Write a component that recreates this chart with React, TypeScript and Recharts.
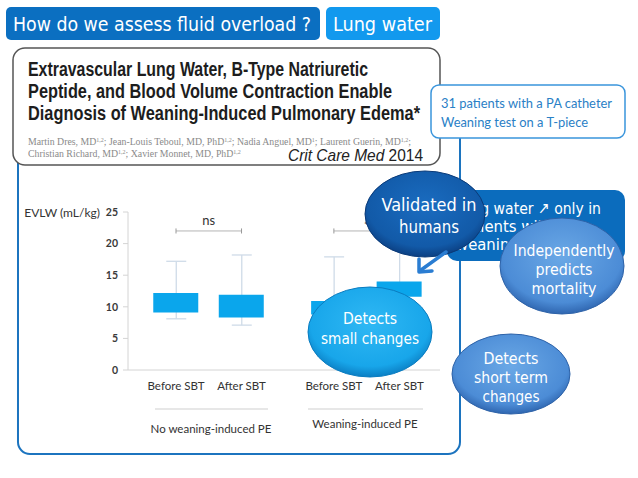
import { ComposedChart, Bar, XAxis, YAxis, ReferenceLine } from "recharts"

const conditions = ["Before SBT", "After SBT"]
const groups = ["No weaning-induced PE", "Weaning-induced PE"]
const whiskerMin = [8.1, 7.1, 7.0, 10.6]
const boxQ1 = [9.1, 8.3, 8.8, 11.6]
const boxQ3 = [12.2, 11.9, 10.9, 14.0]
const whiskerMax = [17.2, 18.2, 17.9, 22.0]
const yTicks = [0, 5, 10, 15, 20, 25]
const significance = ["ns", "*"]
const bracketLevel = 22

// layout of the x positions: two boxes per group, a wider gap between groups
const GROUP_STEP = 2.41
const X_DOMAIN: [number, number] = [-0.733, 4.03]

const data = groups.flatMap((g, gi) =>
  conditions.map((c, ci) => {
    const i = gi * conditions.length + ci
    return {
      pos: gi * GROUP_STEP + ci,
      label: c,
      group: g,
      box: [boxQ1[i], boxQ3[i]],
      whisker: [whiskerMin[i], whiskerMax[i]],
    }
  })
)

const CHART_FONT = "Lato, 'Open Sans', sans-serif"
const SLIDE_FONT = "'DejaVu Sans Condensed', 'DejaVu Sans', sans-serif"

// eslint-disable-next-line @typescript-eslint/no-explicit-any
function Whisker(props: any) {
  const { x, y, width, height } = props
  const top = Math.min(y, y + height)
  const bottom = Math.max(y, y + height)
  const cx = x + width / 2
  return (
    <g stroke="#cfdbe8" strokeWidth={1.3}>
      <line x1={cx} x2={cx} y1={top} y2={bottom} />
      <line x1={x} x2={x + width} y1={top} y2={top} />
      <line x1={x} x2={x + width} y1={bottom} y2={bottom} />
    </g>
  )
}

function BoxChart() {
  return (
    <ComposedChart
      width={638}
      height={478}
      data={data}
      margin={{ top: 212, right: 198, bottom: 78, left: 98 }}
      style={{ position: "absolute", left: 0, top: 0 }}
    >
      <XAxis
        xAxisId="box"
        dataKey="pos"
        type="number"
        domain={X_DOMAIN}
        allowDataOverflow
        ticks={data.map((d) => d.pos)}
        tickFormatter={(v) => data.find((d) => Math.abs(d.pos - v) < 1e-6)?.label ?? ""}
        tick={{ fill: "#333", fontSize: 11.5, fontFamily: CHART_FONT }}
        axisLine={{ stroke: "#d4d4d4" }}
        tickLine={false}
        tickSize={6}
        tickMargin={6}
        height={30}
        interval={0}
      />
      <XAxis xAxisId="whisker" dataKey="pos" type="number" domain={X_DOMAIN} allowDataOverflow hide />
      <YAxis
        domain={[0, 25]}
        ticks={yTicks}
        width={30}
        tick={{ fill: "#3a3a3a", fontSize: 10.5, fontWeight: 700, fontFamily: CHART_FONT }}
        axisLine={{ stroke: "#d4d4d4" }}
        tickLine={{ stroke: "#d4d4d4" }}
        tickSize={5}
        tickMargin={5}
        allowDataOverflow
      />
      <Bar
        xAxisId="whisker"
        dataKey="whisker"
        barSize={20}
        shape={(p: any) => <Whisker {...p} />}
        isAnimationActive={false}
      />
      <Bar xAxisId="box" dataKey="box" barSize={45} fill="#0aa6ec" isAnimationActive={false} />
      {groups.map((g, gi) => {
        const a = gi * GROUP_STEP
        const b = a + 1
        return [
          <ReferenceLine
            key={g + "line"}
            xAxisId="box"
            ifOverflow="visible"
            stroke="#b5b5b5"
            segment={[
              { x: a, y: bracketLevel },
              { x: b, y: bracketLevel },
            ]}
            label={{
              value: significance[gi],
              position: "top",
              offset: gi === 0 ? 6 : 1,
              fill: "#333",
              fontSize: gi === 0 ? 13 : 12,
              fontFamily: CHART_FONT,
            }}
          />,
          <ReferenceLine
            key={g + "capA"}
            xAxisId="box"
            ifOverflow="visible"
            stroke="#999"
            segment={[
              { x: a, y: bracketLevel - 0.4 },
              { x: a, y: bracketLevel + 0.4 },
            ]}
          />,
          <ReferenceLine
            key={g + "capB"}
            xAxisId="box"
            ifOverflow="visible"
            stroke="#999"
            segment={[
              { x: b, y: bracketLevel - 0.4 },
              { x: b, y: bracketLevel + 0.4 },
            ]}
          />,
        ]
      })}
    </ComposedChart>
  )
}

function Background() {
  return (
    <svg width={638} height={478} style={{ position: "absolute", left: 0, top: 0 }}>
      {/* frame around the figure */}
      <rect x={18} y={110} width={442} height={344} rx={12} fill="#fff" stroke="#1c74bf" strokeWidth={2} />

      {/* title bars */}
      <rect x={6} y={7} width={314} height={33} rx={5} fill="#0b6fc1" />
      <text x={13} y={31} fill="#fff" fontSize={20} fontFamily={SLIDE_FONT} textLength={298} lengthAdjust="spacingAndGlyphs">
        How do we assess fluid overload ?
      </text>
      <rect x={326} y={7} width={114} height={33} rx={5} fill="#1299ee" />
      <text x={333} y={31} fill="#fff" fontSize={20} fontFamily={SLIDE_FONT} textLength={99} lengthAdjust="spacingAndGlyphs">
        Lung water
      </text>

      {/* paper reference */}
      <rect x={13} y={48} width={427} height={117} rx={12} fill="#fff" stroke="#555" strokeWidth={1.5} />
      <g fill="#1d1d1d" fontSize={19.5} fontWeight={700} fontFamily="'Liberation Sans', Arial, sans-serif">
        <text x={28} y={76} textLength={340} lengthAdjust="spacingAndGlyphs">
          Extravascular Lung Water, B-Type Natriuretic
        </text>
        <text x={28} y={98} textLength={364} lengthAdjust="spacingAndGlyphs">
          Peptide, and Blood Volume Contraction Enable
        </text>
        <text x={28} y={120} textLength={392} lengthAdjust="spacingAndGlyphs">
          Diagnosis of Weaning-Induced Pulmonary Edema*
        </text>
      </g>
      <g fill="#8a8a8a" fontSize={9.8} fontFamily="'Liberation Serif', serif">
        <text x={28} y={145}>
          Martin Dres, MD<tspan fontSize={6} dy={-3}>1,2</tspan>
          <tspan dy={3}>; Jean-Louis Teboul, MD, PhD</tspan>
          <tspan fontSize={6} dy={-3}>1,2</tspan>
          <tspan dy={3}>; Nadia Anguel, MD</tspan>
          <tspan fontSize={6} dy={-3}>1</tspan>
          <tspan dy={3}>; Laurent Guerin, MD</tspan>
          <tspan fontSize={6} dy={-3}>1,2</tspan>
          <tspan dy={3}>;</tspan>
        </text>
        <text x={28} y={157}>
          Christian Richard, MD<tspan fontSize={6} dy={-3}>1,2</tspan>
          <tspan dy={3}>; Xavier Monnet, MD, PhD</tspan>
          <tspan fontSize={6} dy={-3}>1,2</tspan>
        </text>
      </g>
      <text x={288} y={161} fill="#222" fontSize={16.5} fontFamily="'Liberation Sans', Arial, sans-serif" textLength={135} lengthAdjust="spacingAndGlyphs">
        <tspan fontStyle="italic">Crit Care Med</tspan> 2014
      </text>

      {/* study info */}
      <rect x={431} y={85} width={194} height={53} rx={8} fill="#fff" stroke="#3a95dc" strokeWidth={1.5} />
      <g fill="#2a80c6" fontSize={13.5} fontFamily={CHART_FONT}>
        <text x={441} y={108} textLength={171} lengthAdjust="spacingAndGlyphs">31 patients with a PA catheter</text>
        <text x={441} y={127} textLength={147} lengthAdjust="spacingAndGlyphs">Weaning test on a T-piece</text>
      </g>

      {/* x group labels */}
      <line x1={155} x2={268} y1={409} y2={409} stroke="#cfcfcf" />
      <line x1={308} x2={423} y1={409} y2={409} stroke="#cfcfcf" />
      <g fill="#333" fontSize={11.5} fontFamily={CHART_FONT} textAnchor="middle">
        <text x={211} y={433}>{groups[0]}</text>
        <text x={365} y={428}>{groups[1]}</text>
      </g>
      <text x={100} y={217} fill="#333" fontSize={12} fontFamily={CHART_FONT} textAnchor="end">
        EVLW (mL/kg)
      </text>
    </svg>
  )
}

function Callouts() {
  return (
    <svg width={638} height={478} style={{ position: "absolute", left: 0, top: 0 }}>
      <defs>
        <radialGradient id="gDark" cx="50%" cy="40%" r="60%">
          <stop offset="0%" stopColor="#1a6cc0" />
          <stop offset="80%" stopColor="#125aa8" />
          <stop offset="100%" stopColor="#0b3f82" />
        </radialGradient>
        <radialGradient id="gMid" cx="50%" cy="40%" r="60%">
          <stop offset="0%" stopColor="#6aa8e6" />
          <stop offset="80%" stopColor="#4c8cd6" />
          <stop offset="100%" stopColor="#2f66b0" />
        </radialGradient>
        <radialGradient id="gCyan" cx="50%" cy="40%" r="60%">
          <stop offset="0%" stopColor="#2fb8f4" />
          <stop offset="80%" stopColor="#18a6ea" />
          <stop offset="100%" stopColor="#0b7fc4" />
        </radialGradient>
      </defs>

      <rect x={447} y={190} width={178} height={71} rx={10} fill="#0b6cbd" />
      <g fill="#fff" fontSize={16.5} fontFamily={SLIDE_FONT}>
        <text x={455} y={214} textLength={146} lengthAdjust="spacingAndGlyphs">Lung water ↗ only in</text>
        <text x={456} y={232}>patients with</text>
        <text x={456} y={250}>weaning-induced PE</text>
      </g>

      <ellipse cx={425} cy={214} rx={60} ry={43} fill="url(#gDark)" stroke="#0a3a78" strokeWidth={1} />
      <g fill="#fff" fontSize={17} fontFamily={SLIDE_FONT} textAnchor="middle">
        <text x={429} y={211} textLength={95} lengthAdjust="spacingAndGlyphs">Validated in</text>
        <text x={429} y={233} textLength={60} lengthAdjust="spacingAndGlyphs">humans</text>
      </g>
      <g stroke="#2a7dd2" strokeWidth={3.5} fill="none" strokeLinecap="round" strokeLinejoin="round">
        <line x1={446} y1={252} x2={421} y2={270} />
        <polyline points="419,259 419,272 432,271" />
      </g>

      <ellipse cx={562} cy={266} rx={62} ry={48} fill="url(#gMid)" stroke="#2d62a8" strokeWidth={1} />
      <g fill="#fff" fontSize={16} fontFamily={SLIDE_FONT} textAnchor="middle">
        <text x={564} y={256} textLength={101} lengthAdjust="spacingAndGlyphs">Independently</text>
        <text x={564} y={275} textLength={57} lengthAdjust="spacingAndGlyphs">predicts</text>
        <text x={564} y={294} textLength={65} lengthAdjust="spacingAndGlyphs">mortality</text>
      </g>

      <ellipse cx={370} cy={332} rx={62} ry={45} fill="url(#gCyan)" stroke="#0a7cc0" strokeWidth={1} />
      <g fill="#fff" fontSize={16.5} fontFamily={SLIDE_FONT} textAnchor="middle">
        <text x={370} y={324} textLength={54} lengthAdjust="spacingAndGlyphs">Detects</text>
        <text x={370} y={344} textLength={98} lengthAdjust="spacingAndGlyphs">small changes</text>
      </g>

      <ellipse cx={511} cy={374} rx={59} ry={40} fill="url(#gMid)" stroke="#2d62a8" strokeWidth={1} />
      <g fill="#fff" fontSize={16} fontFamily={SLIDE_FONT} textAnchor="middle">
        <text x={511} y={364} textLength={55} lengthAdjust="spacingAndGlyphs">Detects</text>
        <text x={511} y={383} textLength={74} lengthAdjust="spacingAndGlyphs">short term</text>
        <text x={511} y={402} textLength={57} lengthAdjust="spacingAndGlyphs">changes</text>
      </g>
    </svg>
  )
}

export default function App() {
  return (
    <div style={{ position: "absolute", left: 0, top: 0, width: 638, height: 478, background: "#fff", overflow: "hidden" }}>
      <Background />
      <BoxChart />
      <Callouts />
    </div>
  )
}
